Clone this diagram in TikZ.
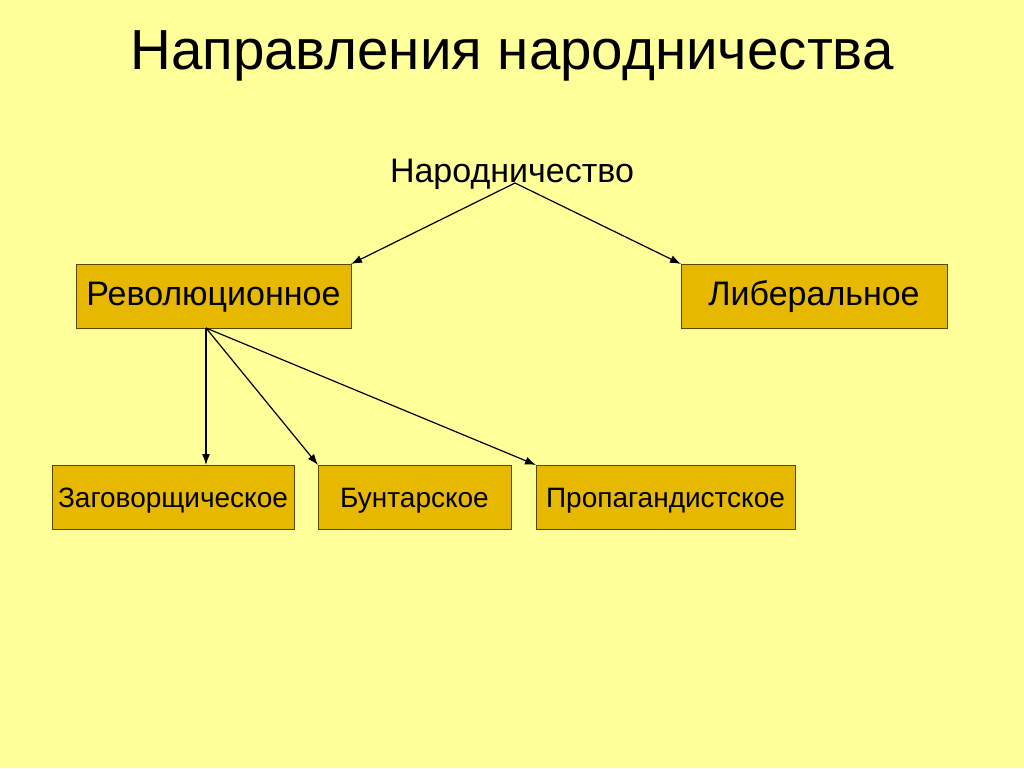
\documentclass[tikz,border=0pt]{standalone}
\usepackage{fontspec}
\setmainfont{Liberation Sans}
\usetikzlibrary{arrows.meta}
\definecolor{slidebg}{RGB}{255,255,153}
\definecolor{boxfill}{RGB}{230,184,0}
\definecolor{boxline}{RGB}{90,70,0}
\tikzset{
  branch/.style={fill=boxfill,draw=boxline,line width=1pt,inner sep=0pt,outer sep=0pt,minimum height=64pt,text depth=0pt},
  bigtext/.style={font=\fontsize{34}{38}\selectfont,text height=18pt},
  smalltext/.style={font=\fontsize{28}{32}\selectfont,text height=20pt},
  link/.style={-{Latex[length=11pt,width=8pt]},line width=1.2pt}
}
\begin{document}
\begin{tikzpicture}[x=1pt,y=-1pt]
      \fill[slidebg] (0,0) rectangle (1024,768);
      \useasboundingbox (0,0) rectangle (1024,768);
      \draw
        (512,70) node[font=\fontsize{56.5}{62}\selectfont,anchor=base] (title){Направления народничества}
        (512,182) node[font=\fontsize{34}{38}\selectfont,inner sep=0pt,anchor=base] (nar){Народничество}
        (213.5,296) node[branch,bigtext,minimum width=275pt] (rev){Революционное}
        (814,296) node[branch,bigtext,minimum width=266pt] (lib){Либеральное}
        (173,497) node[branch,smalltext,minimum width=242pt] (zag){Заговорщическое}
        (414.5,497) node[branch,smalltext,minimum width=193pt] (bunt){Бунтарское}
        (665.5,497) node[branch,smalltext,minimum width=259pt] (prop){Пропагандистское};
      \coordinate (top) at (515,183);
      \coordinate (fork) at (206,328);
      \begin{scope}[link]
        \draw (top) to (rev.north east);
        \draw (top) to (lib.north west);
        \draw (fork) to (zag.north -| fork);
        \draw (fork) to (bunt.north west);
        \draw (fork) to (prop.north west);
      \end{scope}
    \end{tikzpicture}
\end{document}
